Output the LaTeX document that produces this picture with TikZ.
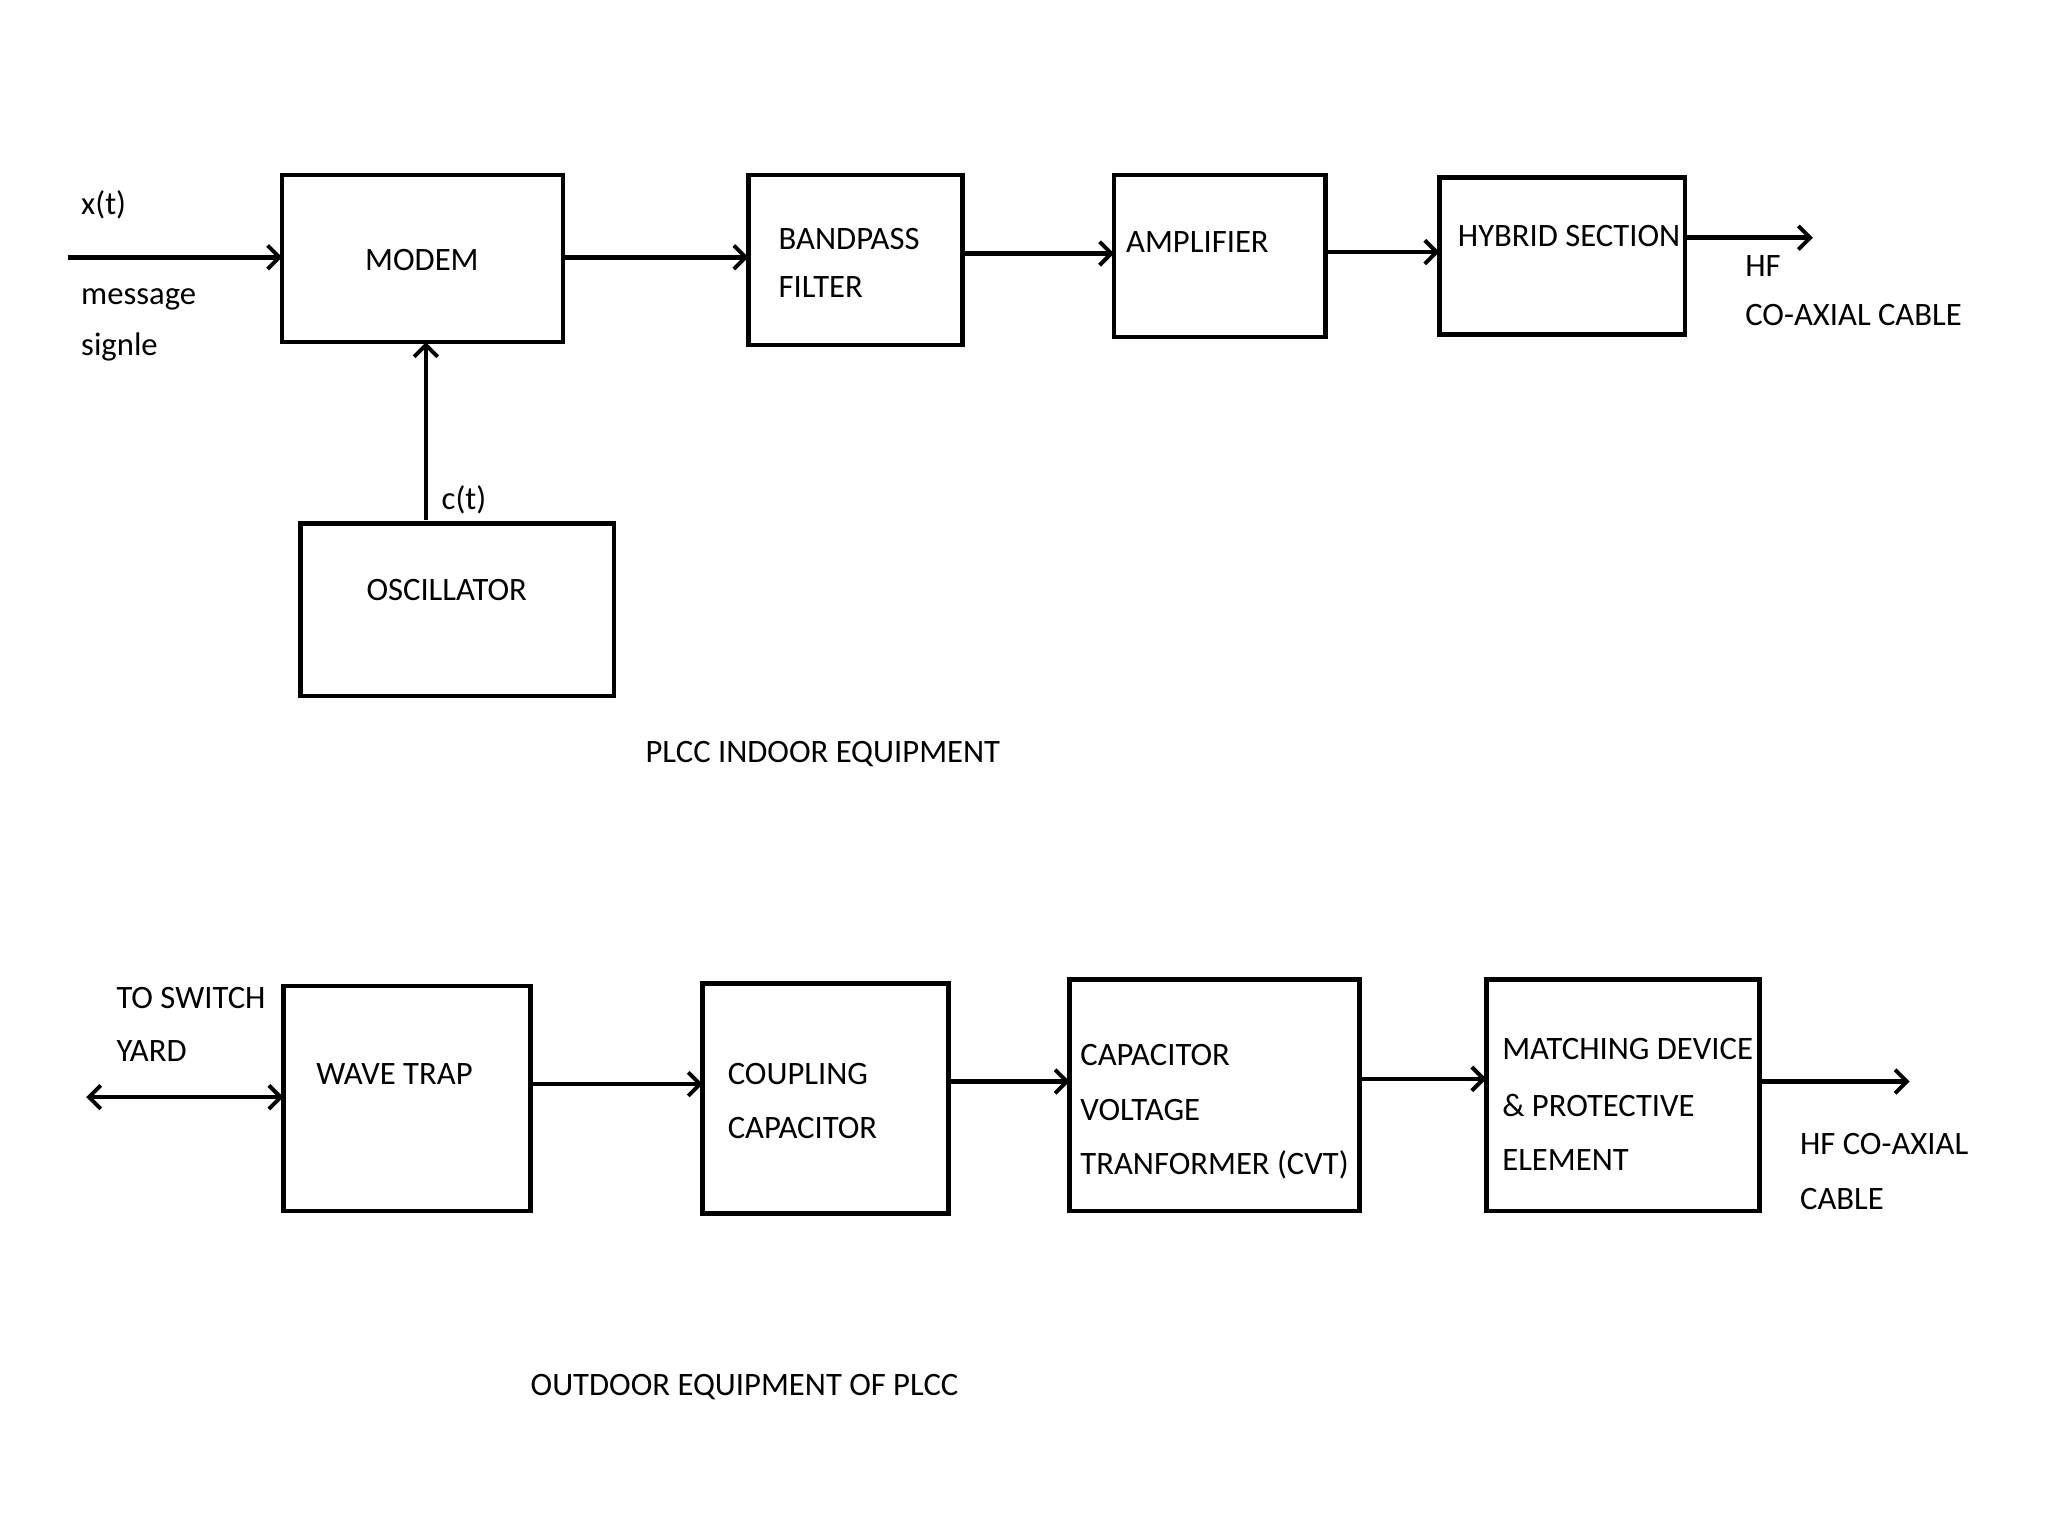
\documentclass[tikz,border=0pt]{standalone}
\usepackage{fontspec}
\setmainfont{Carlito}
\usetikzlibrary{arrows.meta}
\begin{document}
\begin{tikzpicture}[x=1pt,y=-1pt,
  box/.style={draw,line width=3.5pt},
  ln/.style={line width=3.5pt,-{Straight Barb[length=9pt,width=18pt,line width=3pt]}},
  t/.style={font=\fontsize{25}{30}\selectfont,inner sep=0pt},
  tl/.style={t,anchor=west}]
\fill[white] (0,0) rectangle (1568,1176);
% top
\draw[box] (216,134) rectangle (431,262); \node[t] (modem) at (323,199) {MODEM};
\coordinate (mW) at (216,197); \coordinate (mE) at (431,197); \coordinate (mS) at (326,262);
\draw[box] (573,134) rectangle (737,264);
\node[tl] (bpf1) at (596,183) {BANDPASS}; \node[tl] (bpf2) at (596,220) {FILTER};
\draw[box] (853,134) rectangle (1015,258); \node[tl] (amp) at (862,185) {AMPLIFIER};
\draw[box] (1102,136) rectangle (1290,256); \node[tl] (hyb) at (1116,181) {HYBRID SECTION};
\draw[box] (230,401) rectangle (470,533); \node[t] (osc) at (342,452) {OSCILLATOR};
\coordinate (in) at (52,197);
\coordinate (oN) at (326,398);
\coordinate (out1) at (1388,182);
\draw[ln] (in) -- (mW);
\draw[ln] (mE) -- (573,197);
\draw[ln] (737,194) -- (853,194);
\draw[ln] (1015,193) -- (1102,193);
\draw[ln] (1290,182) -- (out1);
\draw[ln] (oN) -- (mS);
\node[tl] (xt) at (62,157) {x(t)};
\node[tl] (ms1) at (62,229) {message};
\node[tl] (ms2) at (62,266) {signle};
\node[tl] (ct) at (338,383) {c(t)};
\node[tl] (hf1) at (1336,204) {HF};
\node[tl] (hf2) at (1336,241) {CO-AXIAL CABLE};
\node[t] (ti1) at (630,577) {PLCC INDOOR EQUIPMENT};
% bottom
\draw[box] (217,755) rectangle (406,927); \node[tl] (wt) at (242,822) {WAVE TRAP};
\draw[box] (538,753) rectangle (726,929);
\node[tl] (cc1) at (557,822) {COUPLING}; \node[tl] (cc2) at (557,864) {CAPACITOR};
\draw[box] (819,750) rectangle (1041,927);
\node[tl] (cv1) at (827,808) {CAPACITOR}; \node[tl] (cv2) at (827,850) {VOLTAGE};
\node[tl] (cv3) at (827,892) {TRANFORMER (CVT)};
\draw[box] (1138,750) rectangle (1347,927);
\node[tl] (md1) at (1150,803) {MATCHING DEVICE}; \node[tl] (md2) at (1150,846) {\& PROTECTIVE};
\node[tl] (md3) at (1150,888) {ELEMENT};
\draw[ln,{Straight Barb[length=9pt,width=18pt,line width=3pt]}-{Straight Barb[length=9pt,width=18pt,line width=3pt]}] (66,840) -- (217,840);
\draw[ln] (406,830) -- (538,830);
\draw[ln] (726,828) -- (819,828);
\draw[ln] (1041,826) -- (1138,826);
\draw[ln] (1347,828) -- (1462,828);
\node[tl] (sw1) at (89,764) {TO SWITCH};
\node[tl] (sw2) at (89,805) {YARD};
\node[tl] (hc1) at (1378,876) {HF CO-AXIAL};
\node[tl] (hc2) at (1378,918) {CABLE};
\node[t] (ti2) at (570,1062) {OUTDOOR EQUIPMENT OF PLCC};
\end{tikzpicture}
\end{document}
